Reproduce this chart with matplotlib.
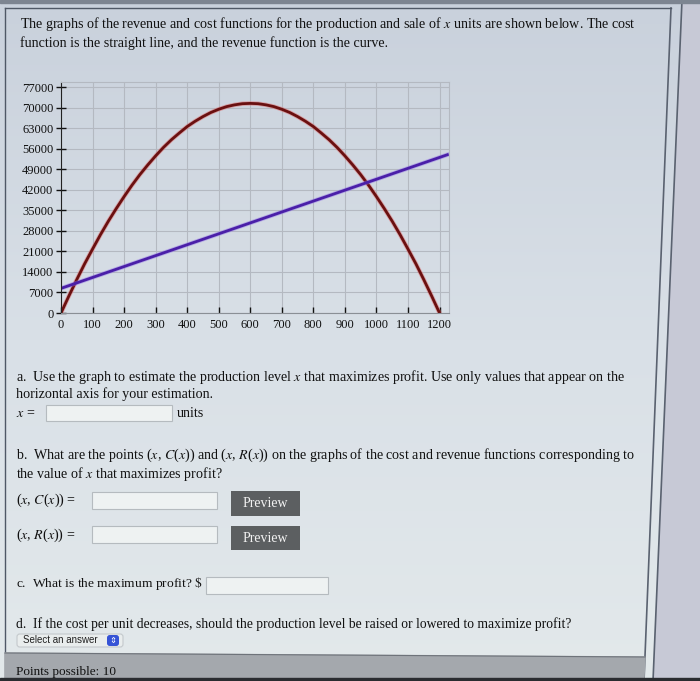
import numpy as np
import matplotlib.pyplot as plt
from matplotlib.patches import Rectangle, FancyBboxPatch
from matplotlib.colors import LinearSegmentedColormap

plt.rcParams['font.family'] = ['Liberation Serif', 'DejaVu Serif']
plt.rcParams['mathtext.fontset'] = 'stix'

# ---------------- data ---------------- #
units = [0, 25, 50, 75, 100, 125, 150, 175, 200, 225, 250, 275, 300, 325, 350, 375, 400,
         425, 450, 475, 500, 525, 550, 575, 600, 625, 650, 675, 700, 725, 750, 775, 800,
         825, 850, 875, 900, 925, 950, 975, 1000, 1025, 1050, 1075, 1100, 1125, 1150, 1175, 1200]
revenue = [0, 5800, 11400, 16800, 21800, 26700, 31300, 35600, 39700, 43600, 47200, 50500, 53600,
           56500, 59100, 61400, 63600, 65400, 67000, 68400, 69500, 70400, 71000, 71400, 71500,
           71400, 71000, 70400, 69500, 68400, 67000, 65400, 63600, 61400, 59100, 56500, 53600,
           50500, 47200, 43600, 39700, 35600, 31300, 26700, 21800, 16800, 11400, 5800, 0]
cost_units = [0, 1225]
cost = [8400, 54000]

x_ticks = [0, 100, 200, 300, 400, 500, 600, 700, 800, 900, 1000, 1100, 1200]
y_ticks = [0, 7000, 14000, 21000, 28000, 35000, 42000, 49000, 56000, 63000, 70000, 77000]

W, H = 700, 681


def fx(x):
    return x / W


def fy(y):
    return 1 - y / H


fig = plt.figure(figsize=(7, 6.81), dpi=100)

# page background (photo of a screen, slightly darker at the top)
bg = fig.add_axes([0, 0, 1, 1])
cmap = LinearSegmentedColormap.from_list('page', ['#c9d1dc', '#d9e0e7', '#e3e9eb'])
bg.imshow(np.linspace(0, 1, 200).reshape(-1, 1), aspect='auto', cmap=cmap,
          extent=[0, 1, 0, 1], origin='upper')
bg.set_xlim(0, 1)
bg.set_ylim(0, 1)
bg.axis('off')

# right margin beyond the panel
bg.fill([fx(682), 1, 1, fx(653)], [fy(0), fy(0), fy(681), fy(681)], color='#c7c9d6', zorder=1)
bg.plot([fx(671), fx(644)], [fy(8), fy(681)], color='#5a6270', lw=1.2, zorder=2)
bg.plot([fx(682), fx(653)], [fy(0), fy(681)], color='#5a6270', lw=1.2, zorder=2)
# top strip and panel border
bg.add_patch(Rectangle((0, fy(3)), 1, 3 / H, color='#7d8591', zorder=2))
bg.plot([fx(5), fx(671)], [fy(8), fy(8)], color='#4f5866', lw=1.0, zorder=2)
bg.plot([fx(5), fx(5)], [fy(8), fy(681)], color='#4f5866', lw=1.0, zorder=2)
# bottom grey bar
bg.fill([fx(5), fx(645), fx(644), fx(5)], [fy(653), fy(657), fy(678), fy(678)],
        color='#a4a8ad', zorder=2)
bg.plot([fx(5), fx(645)], [fy(653), fy(657)], color='#6e737a', lw=0.8, zorder=3)
bg.add_patch(Rectangle((0, 0), 1, 3 / H, color='#2a2c30', zorder=3))

txt = dict(color='#111111', fontsize=10.1, va='center', ha='left')

fig.text(fx(20), fy(24), 'The graphs of the revenue and cost functions for the production and sale of $x$ units '
         'are shown below. The cost', **txt)
fig.text(fx(20), fy(43), 'function is the straight line, and the revenue function is the curve.', **txt)

# ---------------- chart ---------------- #
ax = fig.add_axes([fx(61), fy(313), (449 - 61) / W, (313 - 82) / H])
ax.set_facecolor('none')
ax.set_xlim(0, 1230)
ax.set_ylim(0, 78800)
ax.set_xticks(x_ticks)
ax.set_yticks(y_ticks)
ax.set_xticklabels([str(v) for v in x_ticks], fontsize=9)
ax.set_yticklabels([str(v) for v in y_ticks], fontsize=9)
ax.grid(True, color='#b4b9c1', lw=0.8)
ax.set_axisbelow(True)
ax.tick_params(axis='y', direction='inout', length=7, width=1, pad=2, colors='#111111')
ax.tick_params(axis='x', direction='in', length=4, width=1, pad=4, colors='#111111')
for s in ['top', 'right']:
    ax.spines[s].set_color('#b4b9c1')
    ax.spines[s].set_linewidth(0.8)
ax.spines['left'].set_color('#222222')
ax.spines['bottom'].set_color('#8a8f96')

ax.plot(units, revenue, color='#e06060', lw=3.2, alpha=0.45, solid_capstyle='round')
ax.plot(units, revenue, color='#6a1010', lw=2.0, solid_capstyle='round')
ax.plot(cost_units, cost, color='#8f70e8', lw=3.2, alpha=0.45)
ax.plot(cost_units, cost, color='#4a1fa8', lw=2.0)

# ---------------- questions ---------------- #
fig.text(fx(16), fy(377), 'a.  Use the graph to estimate the production level $x$ that maximizes profit. '
         'Use only values that appear on the', **txt)
fig.text(fx(16), fy(394), 'horizontal axis for your estimation.', **txt)
fig.text(fx(16), fy(413), '$x$ =', **txt)


def box(x0, y0, x1, y1):
    bg.add_patch(Rectangle((fx(x0), fy(y1)), (x1 - x0) / W, (y1 - y0) / H,
                           facecolor='#eef2f2', edgecolor='#b5bbbf', lw=0.8, zorder=4))


def button(x0, y0, x1, y1, label):
    bg.add_patch(Rectangle((fx(x0), fy(y1)), (x1 - x0) / W, (y1 - y0) / H,
                           facecolor='#5c5f61', edgecolor='none', zorder=4))
    fig.text(fx((x0 + x1) / 2), fy((y0 + y1) / 2), label, color='#f2f2f2', fontsize=10,
             ha='center', va='center')


box(46, 405, 172, 421)
fig.text(fx(177), fy(413), 'units', **txt)

fig.text(fx(16), fy(455), 'b.  What are the points ($x$, $C$($x$)) and ($x$, $R$($x$)) on the graphs of the cost '
         'and revenue functions corresponding to', **txt)
fig.text(fx(16), fy(474), 'the value of $x$ that maximizes profit?', **txt)

fig.text(fx(16), fy(500), '($x$, $C$($x$)) =', **txt)
box(92, 492, 217, 509)
button(231, 491, 300, 516, 'Preview')

fig.text(fx(16), fy(535), '($x$, $R$($x$)) =', **txt)
box(92, 526, 217, 543)
button(231, 526, 300, 550, 'Preview')

fig.text(fx(16), fy(583), 'c.  What is the maximum profit? $\\$$', color='#111111', fontsize=9.7,
         va='center', ha='left')
box(206, 577, 328, 594)

fig.text(fx(16), fy(624), 'd.  If the cost per unit decreases, should the production level be raised or '
         'lowered to maximize profit?', color='#111111', fontsize=9.8, va='center', ha='left')

# dropdown
bg.add_patch(FancyBboxPatch((fx(17), fy(647)), (123 - 17) / W, 13 / H,
                            boxstyle='round,pad=0,rounding_size=0.004',
                            facecolor='#e9eded', edgecolor='#c4c9cc', lw=0.8, zorder=4))
bg.add_patch(FancyBboxPatch((fx(107), fy(646)), 12 / W, 11 / H,
                            boxstyle='round,pad=0,rounding_size=0.004',
                            facecolor='#3553d6', edgecolor='none', zorder=5))
fig.text(fx(113), fy(640.5), '\u21d5', color='white', fontsize=6, ha='center', va='center',
         family='DejaVu Sans')
fig.text(fx(23), fy(640), 'Select an answer', color='#222222', fontsize=7, ha='left', va='center',
         family='Liberation Sans')

fig.text(fx(16), fy(672), 'Points possible: 10', color='#111111', fontsize=9.5, ha='left', va='center')

fig.savefig('out.png', dpi=100)
